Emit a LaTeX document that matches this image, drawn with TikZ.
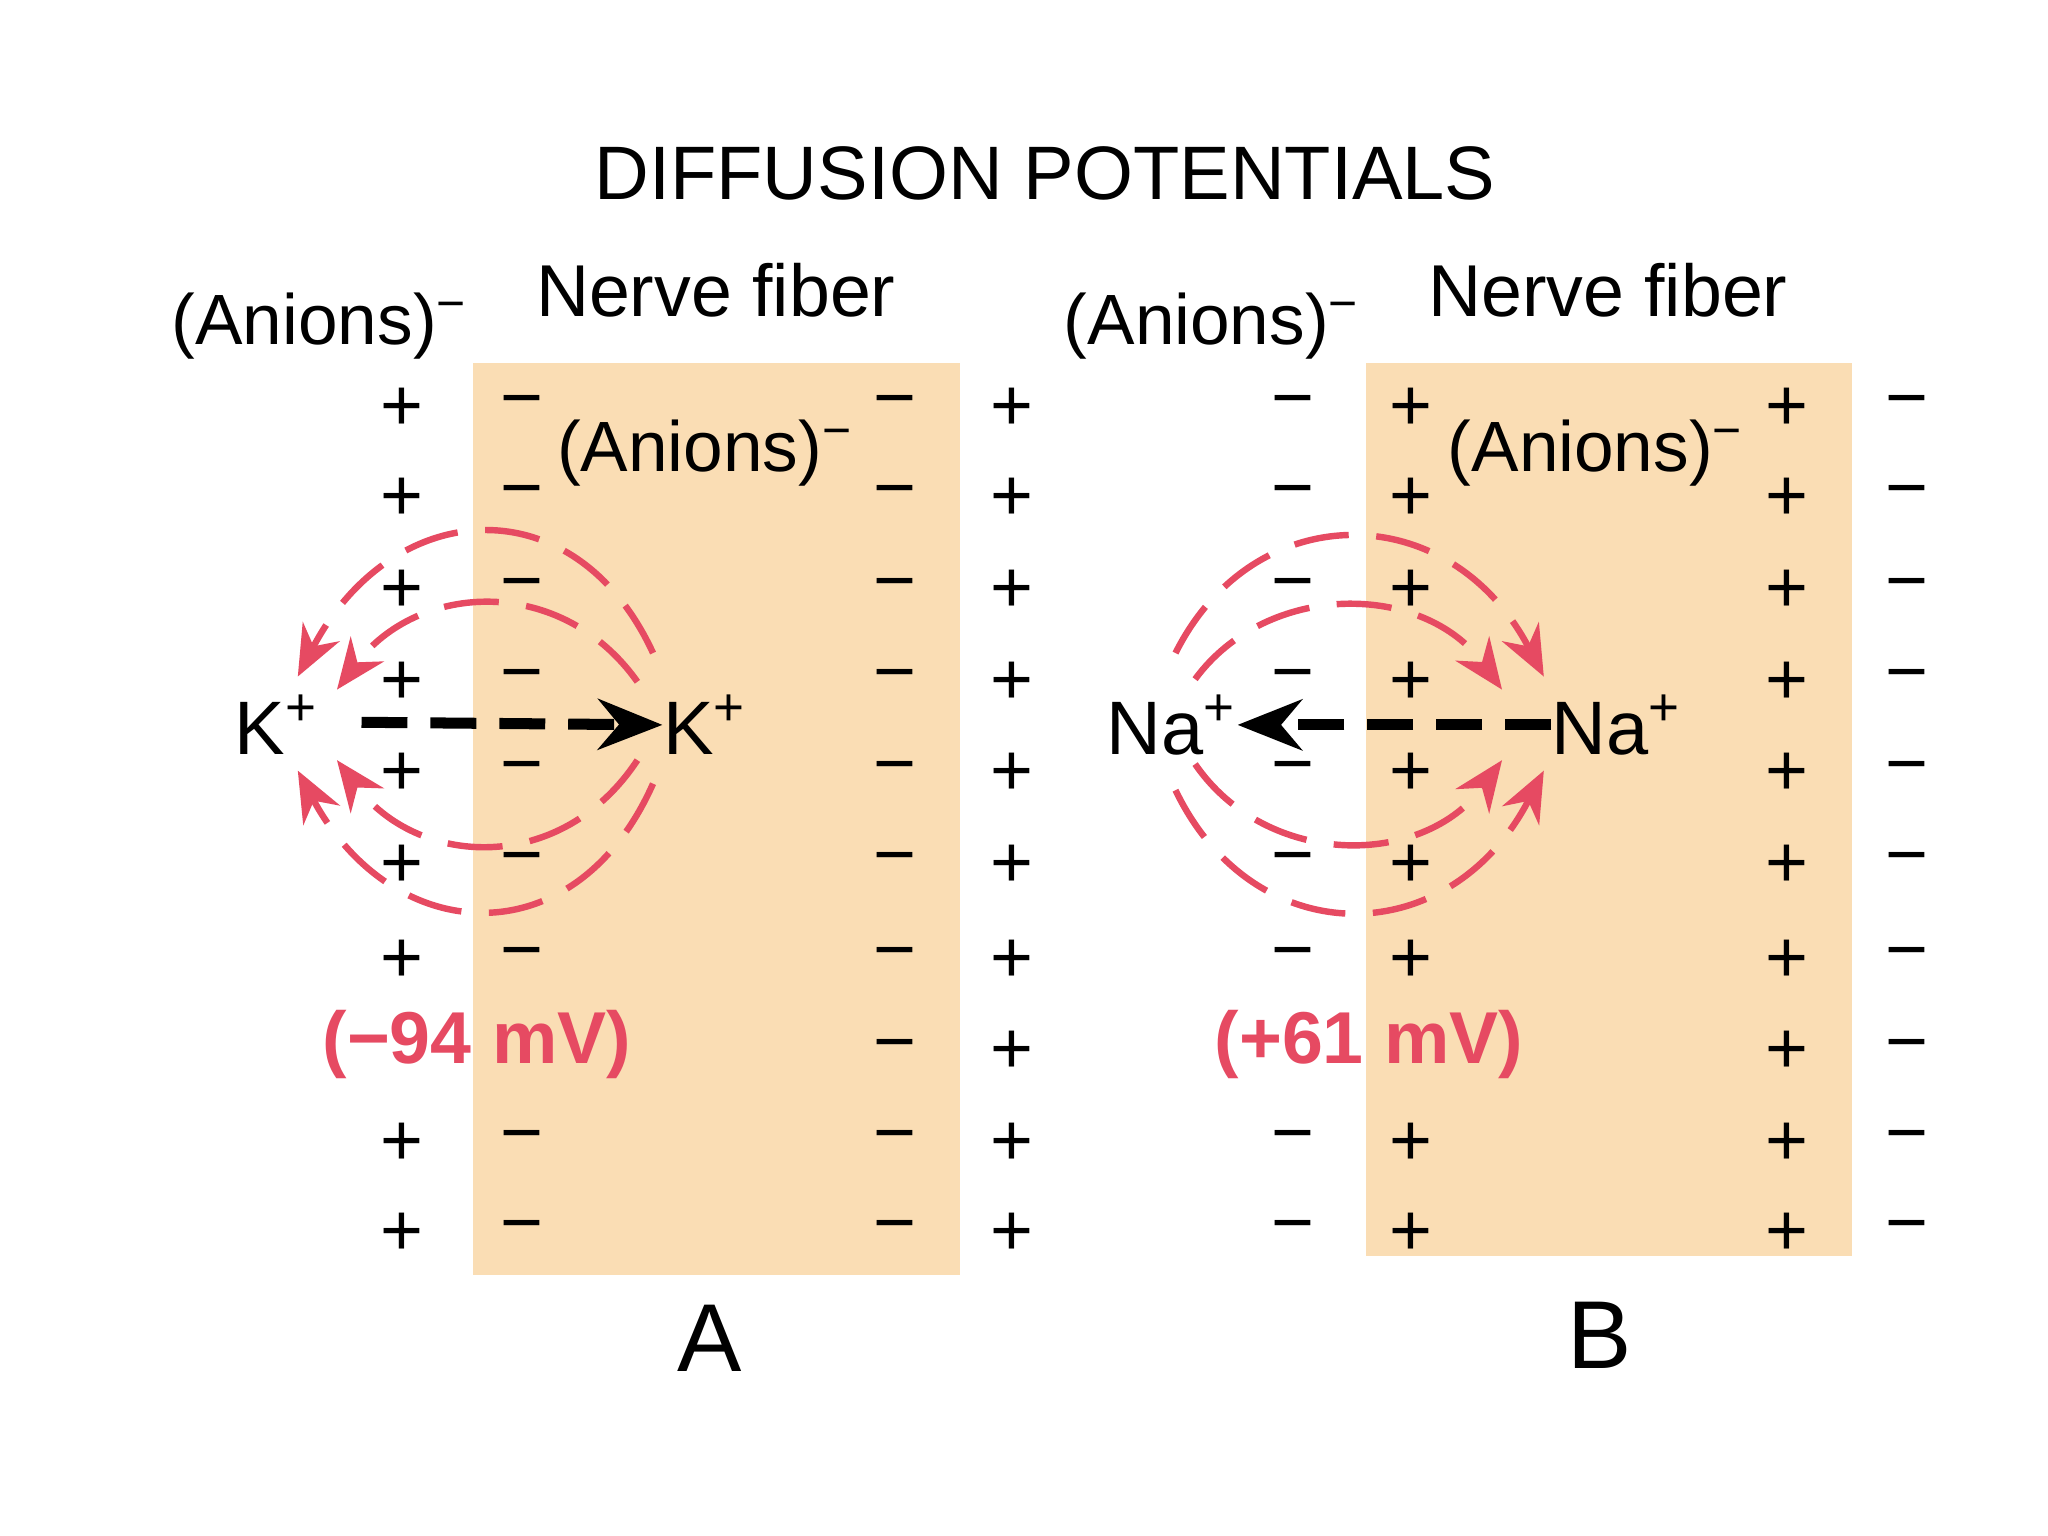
\documentclass[tikz,border=0pt]{standalone}
\usepackage{fontspec}
\setmainfont{Liberation Sans}
\usetikzlibrary{arrows.meta}
\definecolor{fib}{HTML}{FADDB4}
\definecolor{rd}{HTML}{E64A62}
\begin{document}
\begin{tikzpicture}[x=0.01cm,y=-0.01cm,
  lab/.style={font=\fontsize{15.5}{18}\selectfont,inner sep=0pt},
  sgn/.style={font=\fontsize{16}{18}\selectfont,inner sep=0pt},
  ion/.style={font=\fontsize{16.5}{19}\selectfont,inner sep=0pt},
  flow/.style={rd,line width=1.4pt,dash pattern=on 12pt off 6pt,-{Stealth[length=11pt,width=9pt]}},
  net/.style={black,line width=2.4pt,dash pattern=on 10pt off 5pt,-{Stealth[length=14pt,width=11pt]}},
  mv/.style={rd,font=\bfseries\fontsize{16}{19}\selectfont,inner sep=0pt}]
\useasboundingbox (0,0) rectangle (1568,1176);
\fill[white] (0,0) rectangle (1568,1176);
\fill[fib] (362,278) rectangle (735,976);
\fill[fib] (1046,278) rectangle (1418,962);
\node[font=\fontsize{16.5}{20}\selectfont] (title) at (800,133) {DIFFUSION POTENTIALS};
\node[lab] (anA) at (245,250) {(Anions)\textsuperscript{−}};
\node[lab,font=\fontsize{16}{20}\selectfont] (nfA) at (548,222) {Nerve fiber};
\node[lab] (aiA) at (540,347) {(Anions)\textsuperscript{−}};
\node[lab] (anB) at (928,250) {(Anions)\textsuperscript{−}};
\node[lab,font=\fontsize{16}{20}\selectfont] (nfB) at (1231,222) {Nerve fiber};
\node[lab] (aiB) at (1222,347) {(Anions)\textsuperscript{−}};
\foreach \y [count=\i] in {313,382,453,523,593,663,736,806,876,945}{
  \ifnum\i=8\else
  \node[sgn] (a1\i) at (308,\y) {+};
  \node[sgn] (a2\i) at (400,\y) {−};
  \node[sgn] (b1\i) at (990,\y) {−};
  \node[sgn] (b2\i) at (1080,\y) {+};
  \fi
  \node[sgn] (a3\i) at (685,\y) {−};
  \node[sgn] (a4\i) at (775,\y) {+};
  \node[sgn] (b3\i) at (1368,\y) {+};
  \node[sgn] (b4\i) at (1460,\y) {−};
}
\node[mv] (mvA) at (365,800) {(−94 mV)};
\node[mv] (mvB) at (1048,800) {(+61 mV)};
\node[ion] (kL) at (212,555) {K\textsuperscript{+}};
\node[ion] (kR) at (540,555) {K\textsuperscript{+}};
\node[ion] (nL) at (897,555) {Na\textsuperscript{+}};
\node[ion] (nR) at (1238,555) {Na\textsuperscript{+}};
\coordinate (ka1) at (500,500); \coordinate (ka2) at (488,522);
\coordinate (kb1) at (500,600); \coordinate (kb2) at (488,582);
\coordinate (kl1) at (228,518); \coordinate (kl2) at (258,528);
\coordinate (kl3) at (228,590); \coordinate (kl4) at (258,582);
\draw[flow] (ka1) .. controls (440,370) and (300,380) .. (kl1);
\draw[flow] (ka2) .. controls (430,440) and (320,445) .. (kl2);
\draw[flow] (kb1) .. controls (440,735) and (300,725) .. (kl3);
\draw[flow] (kb2) .. controls (430,670) and (320,665) .. (kl4);
\coordinate (na1) at (900,500); \coordinate (na2) at (915,520);
\coordinate (nb1) at (900,605); \coordinate (nb2) at (915,585);
\coordinate (nr1) at (1182,518); \coordinate (nr2) at (1150,528);
\coordinate (nr3) at (1182,590); \coordinate (nr4) at (1150,582);
\draw[flow] (na1) .. controls (960,380) and (1110,380) .. (nr1);
\draw[flow] (na2) .. controls (970,445) and (1090,445) .. (nr2);
\draw[flow] (nb1) .. controls (960,730) and (1110,730) .. (nr3);
\draw[flow] (nb2) .. controls (970,665) and (1090,665) .. (nr4);
\draw[net] (kL.east)+(32,-2) coordinate (ks) -- (kR.west);
\draw[net] (nR.west) -- (nL.east);
\node[font=\fontsize{21}{24}\selectfont] (lA) at (543,1025) {A};
\node[font=\fontsize{21}{24}\selectfont] (lB) at (1225,1022) {B};
\end{tikzpicture}
\end{document}
